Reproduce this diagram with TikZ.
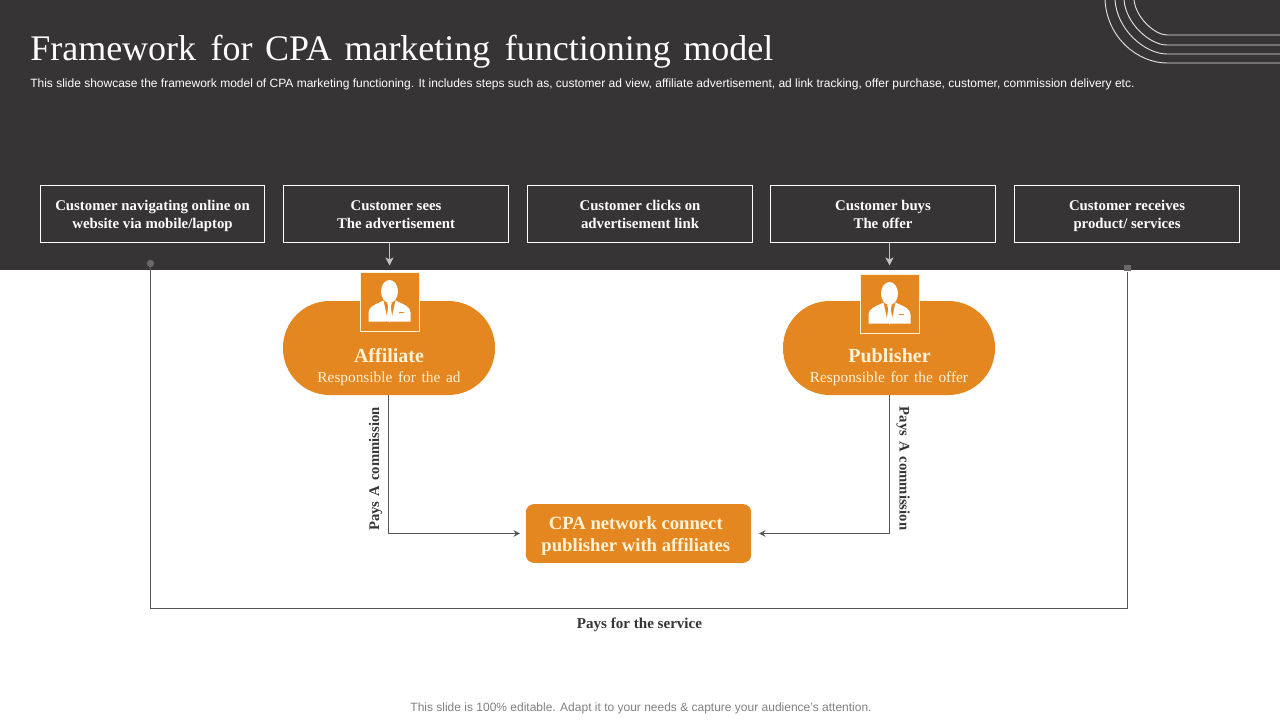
\documentclass[tikz,border=0pt]{standalone}
\usepackage{fontspec}
\usetikzlibrary{arrows.meta}
\setmainfont{Liberation Serif}
\newfontfamily\descfont{Liberation Sans}
\definecolor{darkbg}{HTML}{373435}
\definecolor{orangefill}{HTML}{E58720}
\definecolor{creamtext}{HTML}{FFF2D6}
\definecolor{linegray}{HTML}{555555}
\newcommand{\boxlines}[2]{\rule{0pt}{13pt}#1\\\strut #2}
\tikzset{
    stepbox/.style={rectangle,draw=white,line width=0.8pt,text=white,font=\fontsize{11.1}{13.5}\selectfont\bfseries,align=center,minimum width=169pt,minimum height=43pt,inner sep=0pt},
    pill/.style={rectangle,rounded corners=35pt,fill=orangefill,minimum width=159pt,minimum height=70.5pt,inner sep=0pt},
    iconbox/.style={rectangle,draw=creamtext,line width=0.5pt,fill=orangefill,minimum width=44pt,minimum height=44pt,inner sep=0pt},
    wire/.style={draw=linegray,line width=0.7pt},
    wiretip/.style={-{Stealth[length=5pt,width=5pt,inset=2pt]}},
    droptip/.style={draw=white!70!darkbg,line width=0.8pt,-{Stealth[length=6pt,width=6pt,inset=1.5pt]}},
    pin/.style={circle,fill=gray!70!darkbg,inner sep=0pt,minimum size=5.5pt},
    arc/.style={draw=white!85!darkbg,line width=0.7pt},
    person/.pic={
        \fill[white] (0,-10) ellipse (8.5 and 11.5);
        \fill[white] (-21,20) -- (-21,11) .. controls (-21,5) and (-14,3) .. (-6,-1) -- (-1.5,20) -- cycle;
        \fill[white] (21,20) -- (21,11) .. controls (21,5) and (14,3) .. (6,-1) -- (1.5,20) -- cycle;
        \fill[white] (-2.5,1) -- (2.5,1) -- (1.3,5) -- (3,18) -- (0,21) -- (-3,18) -- (-1.3,5) -- cycle;
        \fill[orangefill] (9,10) rectangle (14,11.5);
    }
}
\begin{document}
\begin{tikzpicture}[x=0.75pt,y=-0.75pt]
    \useasboundingbox (0,0) rectangle (1280,720);
    \fill[darkbg] (0,0) rectangle (1280,270);
    % corner arcs
    \draw[arc] (1105,0) .. controls (1107,38) and (1138,63) .. (1167,63) -- (1280,63);
    \draw[arc] (1115,0) .. controls (1117,30) and (1145,54) .. (1167,54) -- (1280,54);
    \draw[arc] (1124,0) .. controls (1126,24) and (1150,45) .. (1167,45) -- (1280,45);
    \draw[arc] (1134,0) .. controls (1136,18) and (1155,35) .. (1167,35) -- (1280,35);
    % heading
    \node[anchor=west,text=white,inner sep=0pt,font=\fontsize{27}{32}\selectfont] (title) at (30,52) {Framework\hspace{0.15em} for\hspace{0.1em} CPA\hspace{0.1em} marketing\hspace{0.15em} functioning\hspace{0.1em} model};
    \node[anchor=west,text=white,inner sep=0pt,font=\descfont\fontsize{9}{11}\selectfont] (desc) at (30,84) {This slide showcase the framework model of CPA marketing functioning. It includes steps such as, customer ad view, affiliate advertisement, ad link tracking, offer purchase, customer, commission delivery etc.};
    % top row
    \node[stepbox,minimum width=168pt] (s1) at (152.5,214) {\boxlines{Customer navigating online on}{website via mobile/laptop}};
    \node[stepbox] (s2) at (396,214) {\boxlines{Customer sees}{The advertisement}};
    \node[stepbox] (s3) at (640,214) {\boxlines{Customer clicks on}{advertisement link}};
    \node[stepbox] (s4) at (883,214) {\boxlines{Customer buys}{The offer}};
    \node[stepbox] (s5) at (1127,214) {\boxlines{Customer receives}{product/ services}};
    % pills
    \node[pill] (aff) at (389,348) {};
    \node[pill] (pub) at (889,348) {};
    \node[iconbox] (affIcon) at (389.5,301.5) {};
    \node[iconbox] (pubIcon) at (889.5,303.5) {};
    \pic at (affIcon) {person};
    \pic at (pubIcon) {person};
    \node[text=creamtext,font=\fontsize{15}{18}\selectfont\bfseries,inner sep=0pt] (affT) at (389,356) {Affiliate};
    \node[text=creamtext,font=\fontsize{11.5}{13}\selectfont,inner sep=0pt] (affS) at (389,379) {Responsible\hspace{0.12em} for\hspace{0.12em} the\hspace{0.12em} ad};
    \node[text=creamtext,font=\fontsize{15}{18}\selectfont\bfseries,inner sep=0pt] (pubT) at (889.5,356) {Publisher};
    \node[text=creamtext,font=\fontsize{11.5}{13}\selectfont,inner sep=0pt] (pubS) at (889,379) {Responsible\hspace{0.12em} for\hspace{0.12em} the\hspace{0.12em} offer};
    % network
    \node[rectangle,rounded corners=6pt,fill=orangefill,text=creamtext,font=\fontsize{14}{16.5}\selectfont\bfseries,align=center,minimum width=169pt,minimum height=44pt,inner sep=0pt] (cpa) at (638.5,533.5) {\rule{0pt}{16pt}CPA network connect\hspace{4pt}\mbox{}\\\strut publisher with affiliates\hspace{4pt}\mbox{}};
    % connectors
    \coordinate (affDrop) at (389.5,265.5);
    \coordinate (pubDrop) at (889.5,265.5);
    \draw[droptip] (s2.south -| affDrop) -- (affDrop);
    \draw[droptip] (s4.south -| pubDrop) -- (pubDrop);
    \coordinate (affIn) at (520,533.5);
    \coordinate (pubIn) at (759,533.5);
    \draw[wire,wiretip] ([xshift=-0.4pt]aff.south) |- (affIn);
    \draw[wire,wiretip] (pub.south) |- (pubIn);
    \node[pin] (pinL) at (150.5,263.5) {};
    \node[pin,rectangle,minimum size=5pt] (pinR) at (1127.5,268) {};
    \coordinate (loopL) at (150.5,608);
    \coordinate (loopR) at (1127.5,608);
    \draw[wire] (pinL) -- (loopL) -- (loopR) -- (pinR);
    % labels
    \node[rotate=90,text=darkbg,font=\fontsize{11}{13}\selectfont\bfseries,inner sep=0pt] (payA) at (375.5,469) {Pays\hspace{0.1em} A\hspace{0.1em} commission};
    \node[rotate=-90,text=darkbg,font=\fontsize{11}{13}\selectfont\bfseries,inner sep=0pt] (payP) at (903,468.5) {Pays\hspace{0.1em} A\hspace{0.1em} commission};
    \node[text=darkbg,font=\fontsize{11.3}{13}\selectfont\bfseries,inner sep=0pt] (paySvc) at (639.5,624.5) {Pays for the service};
    \node[text=gray,font=\descfont\fontsize{9}{11}\selectfont,inner sep=0pt] (foot) at (641,708.5) {This slide is 100\% editable. Adapt it to your needs \& capture your audience’s attention.};
\end{tikzpicture}
\end{document}
